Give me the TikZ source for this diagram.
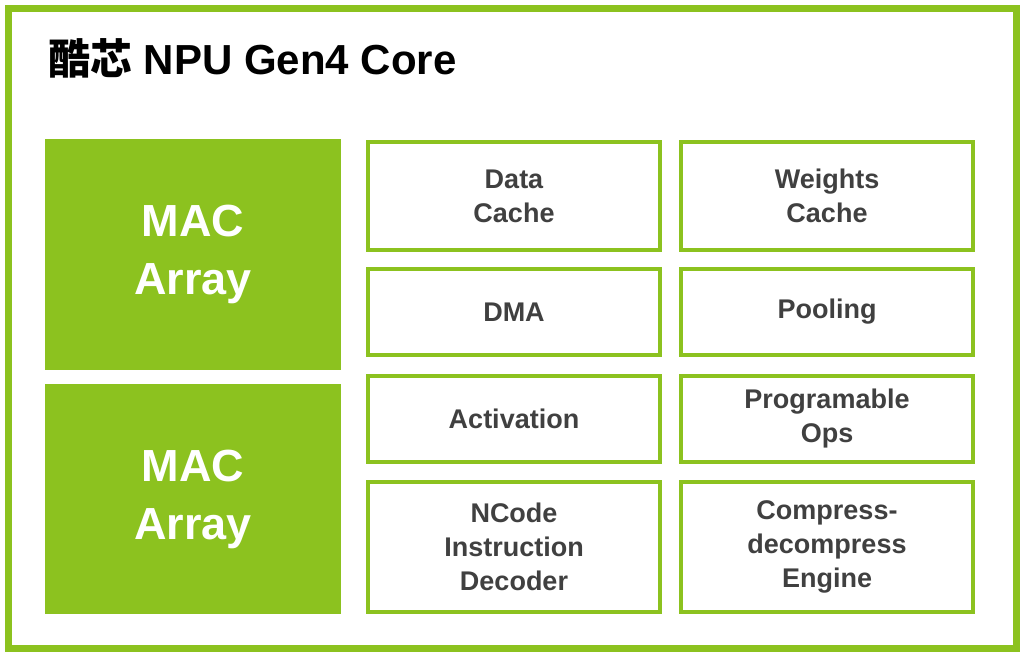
\documentclass[tikz,border=0pt]{standalone}
\usepackage{fontspec}
\setmainfont{Liberation Sans}
\newfontfamily\cjk{Noto Sans CJK SC}
\definecolor{gr}{HTML}{8CC21F}
\definecolor{tx}{HTML}{404040}
\begin{document}
\begin{tikzpicture}[x=1pt,y=-1pt,
 mac/.style={fill=gr,draw=none,text=white,font=\fontsize{45}{58}\selectfont\bfseries,align=center},
 blk/.style={draw=gr,line width=4pt,fill=white,text=tx,font=\fontsize{27}{34}\selectfont\bfseries,align=center}]
\useasboundingbox (0,0) rectangle (1024,656);
\draw[gr,line width=7pt] (8,8) rectangle (1016,648);
\node[anchor=west,inner sep=0pt,font=\fontsize{42}{44}\selectfont\bfseries] (title) at (48,58) {{\cjk 酷芯} NPU Gen4 Core};
\node[mac,minimum width=296pt,minimum height=231pt] (m1) at (193,254.5) {MAC\\Array};
\node[mac,minimum width=296pt,minimum height=230pt] (m2) at (193,499) {MAC\\Array};
\def\bx#1#2#3#4#5{\node[blk,minimum width=292pt,minimum height=#3pt] (#4) at (#1,#2) {#5};}
\bx{514}{196}{108}{dc}{Data\\Cache}
\bx{827}{196}{108}{wc}{Weights\\Cache}
\bx{514}{312}{86}{dma}{DMA}
\bx{827}{312}{86}{pool}{Pooling}
\bx{514}{419}{86}{act}{Activation}
\bx{827}{419}{86}{prog}{Programable\\Ops}
\bx{514}{547}{130}{nc}{NCode\\Instruction\\Decoder}
\bx{827}{547}{130}{cd}{Compress-\\decompress\\Engine}
\end{tikzpicture}
\end{document}
